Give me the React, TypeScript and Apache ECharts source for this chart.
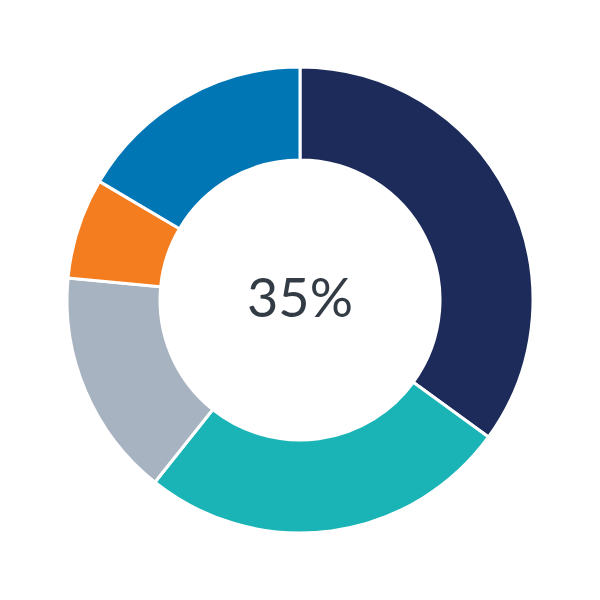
import { useEffect, useRef } from 'react'
import * as echarts from 'echarts'

const categories = ['Navy', 'Teal', 'Gray', 'Orange', 'Blue']
const values = [35, 25.7, 15.8, 7, 16.5]
const colors = ['#1c2b5a', '#1ab3b6', '#a8b3c1', '#f47d20', '#0076b5']
const centerLabel = '35%'

export default function App() {
  const ref = useRef<HTMLDivElement | null>(null)

  useEffect(() => {
    if (!ref.current) return
    const chart = echarts.init(ref.current, null, { renderer: 'svg' })
    chart.setOption({
      animation: false,
      backgroundColor: '#ffffff',
      graphic: [
        {
          type: 'text',
          x: 300,
          y: 296,
          style: {
            text: centerLabel,
            align: 'center',
            verticalAlign: 'middle',
            fontFamily: 'Lato',
            fontWeight: 400,
            fontSize: 54,
            fill: '#333b44'
          }
        }
      ],
      series: [
        {
          type: 'pie',
          center: [300, 300],
          radius: [140, 233],
          startAngle: 90,
          clockwise: true,
          label: { show: false },
          labelLine: { show: false },
          itemStyle: { borderColor: '#ffffff', borderWidth: 3 },
          data: categories.map((name, i) => ({
            name,
            value: values[i],
            itemStyle: { color: colors[i] }
          }))
        }
      ]
    })
    return () => chart.dispose()
  }, [])

  return <div ref={ref} style={{ width: 600, height: 600, margin: -8 }} />
}
